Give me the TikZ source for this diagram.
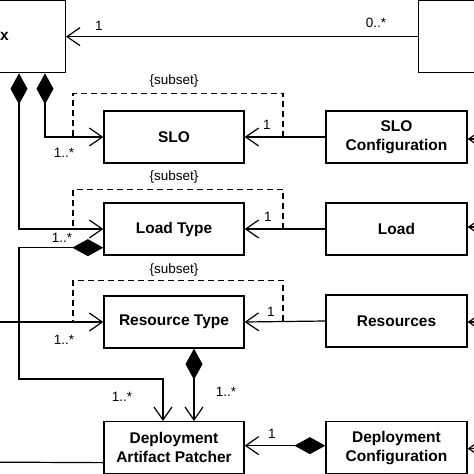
\documentclass[tikz,border=0pt]{standalone}
\usepackage{fontspec}
\setmainfont{Liberation Sans}
\usetikzlibrary{arrows.meta,calc}
\tikzset{
  cls/.style={draw, line width=1.3pt, minimum width=140pt, minimum height=52pt, align=center, inner sep=2pt,
    font=\bfseries\fontsize{15.5}{19}\selectfont},
  assoc/.style={line width=1.2pt, -{Straight Barb[length=13pt,width=18pt]}},
  comp/.style={line width=1.2pt, {Diamond[length=31pt,width=17pt]}-{Straight Barb[length=13pt,width=18pt]}},
  subset/.style={line width=1.2pt, dash pattern=on 6pt off 4pt},
  mult/.style={font=\fontsize{13.5}{16}\selectfont, inner sep=1pt},
}
\begin{document}
\begin{tikzpicture}[x=1pt,y=1pt]
\clip (0,0) rectangle (474,-474);
\coordinate (xa) at (19,0);
\coordinate (xb) at (45,0);
\coordinate (xc) at (163,0);
\coordinate (xd) at (73,0);
\coordinate (xe) at (283,0);
\coordinate (ya) at (0,-379);
\coordinate (offl) at (-30,-322);
\coordinate (offl2) at (-30,-462);
\coordinate (offr1) at (520,-139);
\coordinate (offr2) at (520,-227);
\coordinate (offr3) at (520,-322);
\coordinate (offr4) at (520,-448);

% boxes
\node[cls, minimum width=160pt, minimum height=72pt, anchor=north east] (bench) at (66,0) {};
\node[font=\bfseries\fontsize{15.5}{19}\selectfont, inner sep=0pt, anchor=east] (benchname) at (9,-36) {x};
\node[cls, minimum width=160pt, minimum height=72pt, anchor=north west] (env) at (418,0) {};
\node[cls] (slo) at (174,-137) {SLO};
\node[cls] (loadtype) at (174,-229) {Load Type};
\node[cls] (restype) at (174,-322) {Resource Type};
\node[cls, anchor=north] (dap) at (174,-421) {Deployment\\Artifact Patcher};
\node[cls, minimum width=141pt] (sloconf) at (396.5,-137) {SLO\\Configuration};
\node[cls, minimum width=141pt] (load) at (396.5,-229) {Load};
\node[cls, minimum width=141pt] (resources) at (396.5,-321) {Resources};
\node[cls, minimum width=141pt, anchor=north] (dapconf) at (396.5,-421) {Deployment\\Configuration};

% associations
\draw[assoc] (env.west) -- (bench.east);
\draw[comp] (bench.south -| xb) |- (slo.west);
\draw[comp] (bench.south -| xa) |- (loadtype.west);
\draw[comp] ($(loadtype.south west)+(0,8)$) -| (xa |- ya) -| (dap.north -| xc);
\draw[comp] ($(restype.south)+(20,0)$) -- ($(dap.north)+(20,0)$);
\draw[assoc] (offl) -- (restype.west);
\draw[line width=1.2pt] (offl2) -- ($(dap.west)+(0,-15)$);
\draw[assoc] (sloconf.west) -- (slo.east);
\draw[assoc] (load.west) -- (loadtype.east);
\draw[assoc] (resources.west) -- (restype.east);
\draw[comp] ($(dapconf.west)+(0,2)$) -- ($(dap.east)+(0,2)$);
\draw[assoc] (offr1) -- ($(sloconf.east)+(0,-2)$);
\draw[assoc] (offr2) -- ($(load.east)+(0,2)$);
\draw[assoc] (offr3) -- ($(resources.east)+(0,-1)$);
\draw[assoc] (offr4) -- ($(dapconf.east)+(0,-1)$);

% subset constraints
\draw[subset] (sloconf.west -| xe) |- ($(slo.north)+(0,17)$) -| (slo.west -| xd);
\draw[subset] (load.west -| xe) |- ($(loadtype.north)+(0,13)$) -| (loadtype.west -| xd);
\draw[subset] (resources.west -| xe) |- ($(restype.north)+(0,15)$) -| (restype.west -| xd);
\node[mult] (sub1) at (174,-81) {\{subset\}};
\node[mult] (sub2) at (174,-177) {\{subset\}};
\node[mult] (sub3) at (174,-270) {\{subset\}};

% multiplicities
\node[mult] (m1) at (99,-26) {1};
\node[mult] (m2) at (376,-23) {0..*};
\node[mult] (m3) at (64,-153) {1..*};
\node[mult] (m4) at (62,-238) {1..*};
\node[mult] (m5) at (64,-340) {1..*};
\node[mult] (m6) at (122,-397) {1..*};
\node[mult] (m7) at (226,-392) {1..*};
\node[mult] (m8) at (267,-125) {1};
\node[mult] (m9) at (268,-217) {1};
\node[mult] (m10) at (271,-312) {1};
\node[mult] (m11) at (272,-434) {1};
\end{tikzpicture}
\end{document}
